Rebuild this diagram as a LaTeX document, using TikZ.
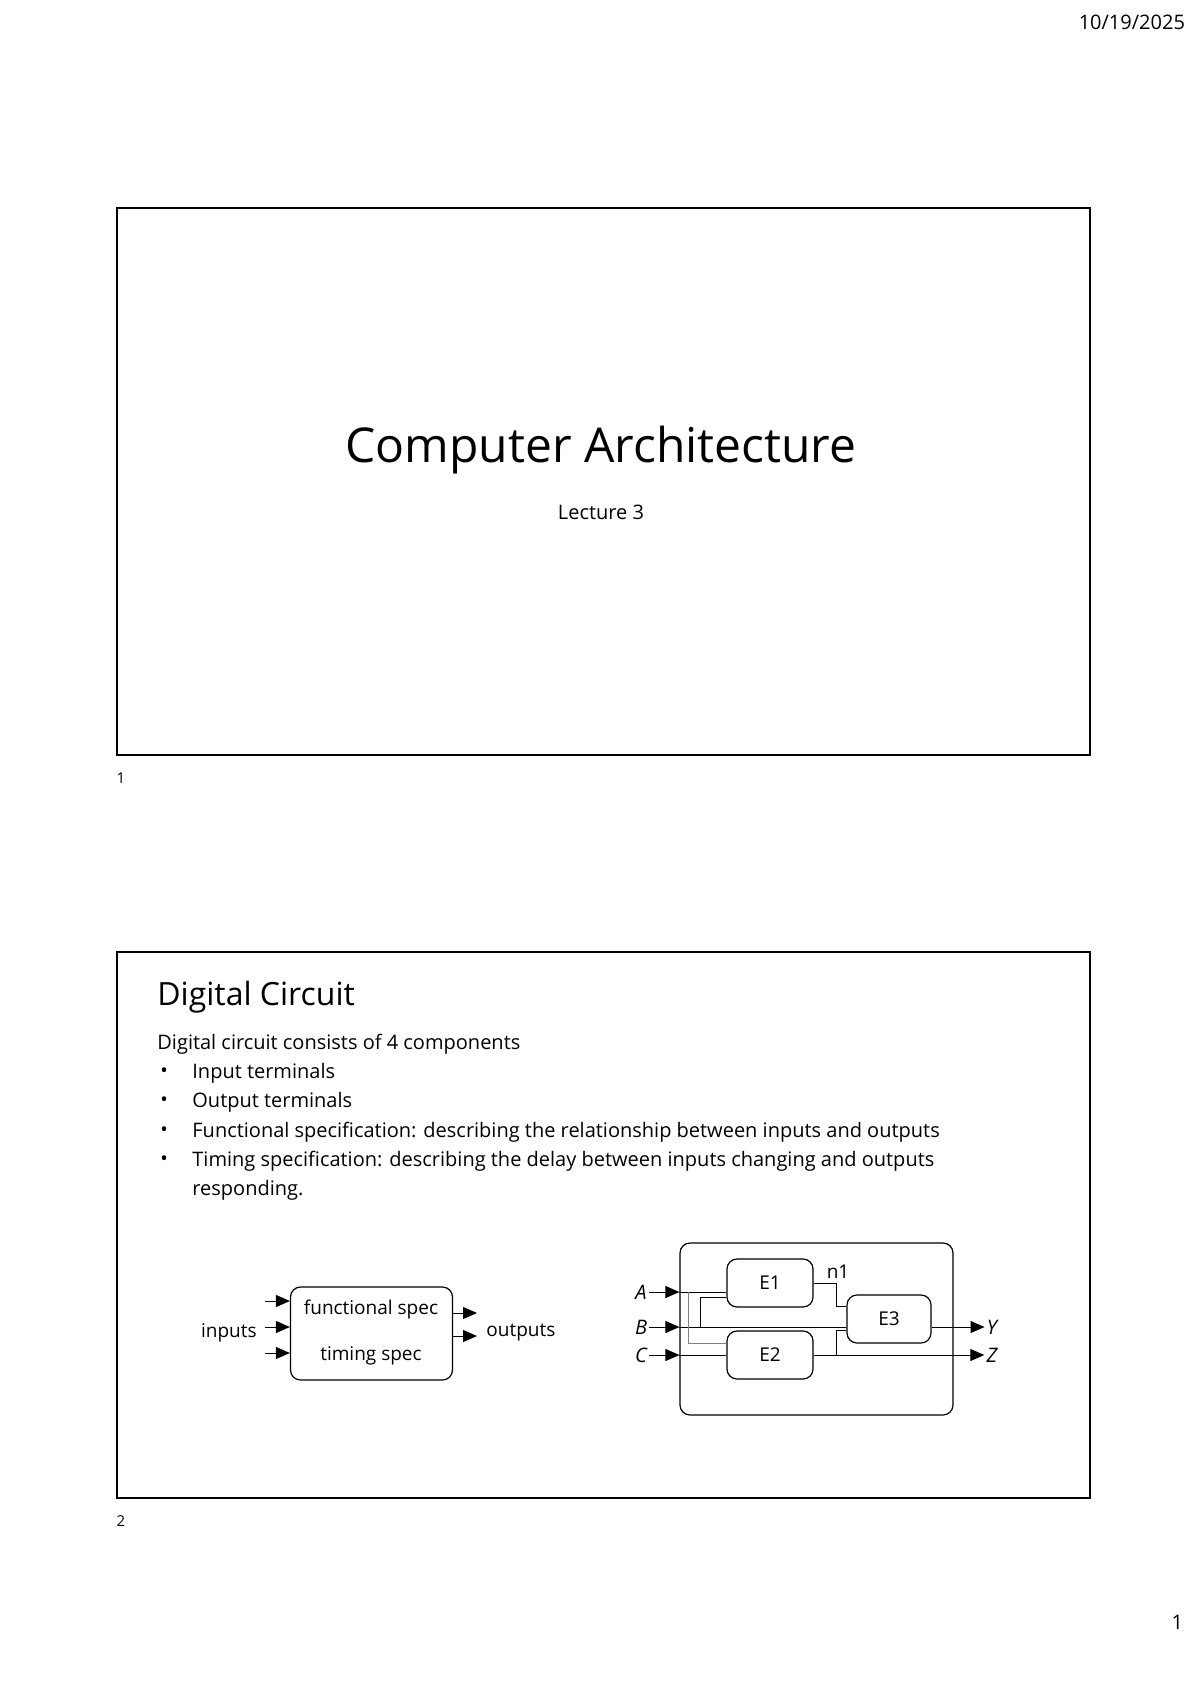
\documentclass[tikz,border=0pt]{standalone}
\usepackage{fontspec}
\setmainfont{Open Sans}
\usetikzlibrary{positioning}
\usetikzlibrary{arrows.meta}
\tikzset{>={Triangle[length=7pt,width=6pt]}}
\tikzset{slide/.style={draw,line width=1.2pt}}
\tikzset{blk/.style={draw,rounded corners=5pt,line width=0.6pt}}
\tikzset{lbl/.style={inner sep=1pt,font=\fontsize{9.5}{12}\selectfont}}
\tikzset{io/.style={inner sep=1pt,font=\itshape\fontsize{10}{12}\selectfont}}
\tikzset{wire/.style={line width=0.5pt}}
\tikzset{body/.style={anchor=west,inner sep=0pt,font=\fontsize{10}{13}\selectfont}}

\begin{document}
\begin{tikzpicture}[x=0.5pt,y=-0.5pt]
\useasboundingbox (0,0) rectangle (1200,1696);

\node[anchor=east,font=\fontsize{10}{12}\selectfont] (date) at (1192,22) {10/19/2025};
\node[anchor=east,font=\fontsize{10}{12}\selectfont] (page) at (1190,1622) {1};

% slide 1
\draw[slide] (117,208) rectangle (1090,755);
\node (title) at (601,450) {\fontsize{24}{30}\selectfont Computer Architecture};
\node (lect) at (601,512) {\fontsize{10}{13}\selectfont Lecture 3};
\node[font=\fontsize{7.5}{10}\selectfont] (n1num) at (121,778) {1};

% slide 2
\draw[slide] (117,952) rectangle (1090,1498);
\node[font=\fontsize{7.5}{10}\selectfont] (n2num) at (121,1521) {2};
\node[body,font=\fontsize{16}{20}\selectfont] (head) at (157,997) {Digital Circuit};
\node[body] (l0) at (157,1044) {Digital circuit consists of 4 components};
\foreach \y/\t in {1073/Input terminals,1102/Output terminals,
  1132/Functional specification: describing the relationship between inputs and outputs,
  1161/Timing specification: describing the delay between inputs changing and outputs} {
  \node[body] at (160,\y) {•};
  \node[body] at (192,\y) {\t};
}
\node[body] (l6) at (192,1190) {responding.};

% block diagram
\node[blk,minimum width=81pt,minimum height=46.5pt] (spec) at (371.5,1333.5) {};
\node[lbl] (fs) at (371,1309) {functional spec};
\node[lbl] (ts) at (371,1356) {timing spec};
\foreach \y in {1301,1327,1353}
  \draw[wire,->] (265,\y) -- (spec.west |- 0,\y);
\foreach \y in {1313,1336}
  \draw[wire,->] (spec.east |- 0,\y) -- (477,\y);
\node[lbl,anchor=east] (in) at (259,1333) {inputs};
\node[lbl,anchor=west] (out) at (484,1333) {outputs};

% circuit
\node[blk,minimum width=136.5pt,minimum height=86pt] (outer) at (816.5,1329) {};
\node[blk,minimum width=43pt,minimum height=24pt,lbl] (E1) at (770,1283) {E1};
\node[blk,minimum width=43pt,minimum height=24pt,lbl] (E2) at (770,1355) {E2};
\node[blk,minimum width=42pt,minimum height=24pt,lbl] (E3) at (889,1319) {E3};
\node[io] (A) at (641,1292) {A};
\node[io] (B) at (641,1327) {B};
\node[io] (C) at (641,1355) {C};
\node[io] (Y) at (992,1327) {Y};
\node[io] (Z) at (992,1355) {Z};
\node[lbl] (n1) at (838,1272) {n1};
\draw[wire,->] (A) -- (outer.west |- A);
\draw[wire,->] (B) -- (outer.west |- B);
\draw[wire,->] (C) -- (outer.west |- C);
\draw[wire] (outer.west |- A) -- (E1.west |- A);
\draw[wire] (outer.west |- C) -- (E2.west |- C);
\draw[wire] (outer.west |- B) -- (E3.west |- B);
\draw[wire,gray] (688,1292) -- (688,1343) -- (E2.west |- 0,1343);
\draw[wire] (700,1327) -- (700,1297) -- (E1.west |- 0,1297);
\draw[wire] (E1.east) -- (836,1283) -- (836,1306) -- (E3.west |- 0,1306);
\draw[wire] (836,1355) -- (836,1330) -- (E3.west |- 0,1330);
\draw[wire] (E2.east) -- (outer.east |- E2);
\draw[wire,->] (outer.east |- E2) -- (Z);
\draw[wire] (E3.east |- B) -- (outer.east |- B);
\draw[wire,->] (outer.east |- B) -- (Y);
\end{tikzpicture}
\end{document}
